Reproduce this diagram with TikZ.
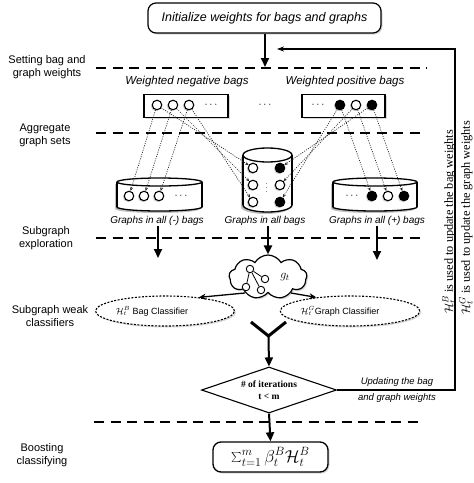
\documentclass[tikz,border=0pt]{standalone}
\usepackage{fontspec}
\setmainfont{Liberation Serif}
\setsansfont{Liberation Sans}
\usetikzlibrary{shapes.geometric,shapes.symbols,shadows,arrows.meta,calc}
\begin{document}
\begin{tikzpicture}[x=1pt,y=-1pt,
  lbl/.style={font=\sffamily\fontsize{11}{13}\selectfont, align=center, inner sep=0pt},
  itx/.style={font=\sffamily\itshape\fontsize{11.5}{13}\selectfont, inner sep=0pt},
  itsm/.style={font=\sffamily\itshape\fontsize{10}{12}\selectfont, inner sep=0pt},
  sep/.style={line width=2.2pt, dash pattern=on 10pt off 6.5pt},
  gn/.style={circle, draw, line width=1.1pt, minimum size=9.5pt, inner sep=0pt, fill=white, drop shadow={shadow xshift=-1.3pt, shadow yshift=-1.3pt, opacity=0.35}},
  gf/.style={gn, fill=black},
  sm/.style={circle, draw, line width=0.9pt, minimum size=7.5pt, inner sep=0pt, fill=white},
  dt/.style={inner sep=0pt, font=\fontsize{11}{11}\selectfont},
  dl/.style={black!85, line width=0.7pt, dash pattern=on 1pt off 1.3pt, -{Stealth[length=3.5pt,width=3pt]}},
  big/.style={line width=2pt, -{Triangle[length=9pt,width=8pt]}},
  med/.style={line width=1.3pt, -{Stealth[length=7pt,width=6pt]}},
  shd/.style={drop shadow={shadow xshift=1.5pt, shadow yshift=-1.5pt, opacity=0.3}},
  cyl/.style={line width=1.3pt},
  rnote/.style={rotate=90, anchor=west, inner sep=0pt, font=\fontsize{12.3}{14}\selectfont},
]
\useasboundingbox (0,0) rectangle (474,483);

% separators
\draw[sep] (96,68) -- (427,68);
\draw[sep] (96,133) -- (426,133);
\draw[sep] (96,238) -- (426,238);
\draw[sep] (94,422) -- (424,422);

% left labels
\node[lbl] (l1) at (47,67) {Setting bag and\\graph weights};
\node[lbl] (l2) at (45,135) {Aggregate\\graph sets};
\node[lbl] (l3) at (46,238) {Subgraph\\exploration};
\node[lbl] (l4) at (50,316) {Subgraph weak\\classifiers};
\node[lbl] (l5) at (42,455) {Boosting\\classifying};

% top box
\node[draw, rounded corners=8pt, line width=1.2pt, minimum width=233pt, minimum height=30pt, fill=white, shd,
  font=\sffamily\itshape\fontsize{12.5}{14}\selectfont] (init) at (264.5,18) {Initialize weights for bags and graphs};
\coordinate (t1) at (265,67);
\draw[big] (init.south -| t1) -- (t1);

% weighted bags
\node[itx] (wneg) at (187,82) {Weighted negative bags};
\node[itx] (wpos) at (345,82) {Weighted positive bags};
\node[draw, line width=1.3pt, minimum width=84pt, minimum height=23pt, fill=white, shd] (nbag) at (186,106) {};
\node[draw, line width=1.3pt, minimum width=83pt, minimum height=23pt, fill=white, shd] (pbag) at (343.5,106) {};
\node[gn] (n1) at (157,105) {};
\node[gn] (n2) at (173,105) {};
\node[gn] (n3) at (189,105) {};
\node[dt] (nd) at (211,105) {$\cdots$};
\node[dt] (bd) at (265,105) {$\cdots$};
\node[dt] (pd) at (318,105) {$\cdots$};
\node[gf] (p1) at (340,105) {};
\node[gn] (p2) at (356,105) {};
\node[gf] (p3) at (372,105) {};

% left cylinder
\fill[black!25, xshift=-2pt, yshift=-2pt] (117,182) rectangle (202,207) (159.5,207) ellipse [x radius=42.5pt, y radius=4pt];
\draw[cyl, fill=white] (159.5,207) ellipse [x radius=42.5pt, y radius=4pt];
\fill[white] (117,182) rectangle (202,207);
\draw[cyl] (117,182) -- (117,207) (202,182) -- (202,207);
\draw[cyl, fill=white] (159.5,182) ellipse [x radius=42.5pt, y radius=4pt];
% middle cylinder
\fill[black!25, xshift=-2pt, yshift=-2pt] (243,155) rectangle (292,205) (267.5,205) ellipse [x radius=24.5pt, y radius=7pt];
\draw[cyl, fill=white] (267.5,205) ellipse [x radius=24.5pt, y radius=7pt];
\fill[white] (243,155) rectangle (292,205);
\draw[cyl] (243,155) -- (243,205) (292,155) -- (292,205);
\draw[cyl, fill=white] (267.5,155) ellipse [x radius=24.5pt, y radius=7pt];
% right cylinder
\fill[black!25, xshift=-2pt, yshift=-2pt] (333,182) rectangle (417,207) (375,207) ellipse [x radius=42pt, y radius=4pt];
\draw[cyl, fill=white] (375,207) ellipse [x radius=42pt, y radius=4pt];
\fill[white] (333,182) rectangle (417,207);
\draw[cyl] (333,182) -- (333,207) (417,182) -- (417,207);
\draw[cyl, fill=white] (375,182) ellipse [x radius=42pt, y radius=4pt];

% graph nodes in cylinders
\node[gn] (a1) at (129,196) {};
\node[gn] (a2) at (144,196) {};
\node[gn] (a3) at (159,196) {};
\node[dt] (ad) at (181,196) {$\cdots$};
\node[gn] (m1) at (253,168) {};
\node[gn] (m2) at (253,185) {};
\node[gn] (m3) at (253,202) {};
\node[dt, font=\fontsize{7}{7}\selectfont] (md) at (266.5,185) {$\vdots$};
\node[gf] (q1) at (280,168) {};
\node[gn] (q2) at (280,185) {};
\node[gf] (q3) at (280,202) {};
\node[dt] (rd) at (352,196) {$\cdots$};
\node[gf] (r1) at (372,196) {};
\node[gn] (r2) at (388,196) {};
\node[gf] (r3) at (404,196) {};

% dotted connectors
\draw[dl] (n1) -- (a1);
\draw[dl] (n2) -- (a2);
\draw[dl] (n3) -- (a3);
\draw[dl] (n1) -- (m1);
\draw[dl] (n2) -- (m2);
\draw[dl] (n3) -- (m3);
\draw[dl] (p1) -- (r1);
\draw[dl] (p2) -- (r2);
\draw[dl] (p3) -- (r3);
\draw[dl] (p3) -- (q1);
\draw[dl] (p2) -- (q2);
\draw[dl] (p1) -- (q3);

% graph set labels
\node[itsm] (gneg) at (157,221) {Graphs in all (-) bags};
\node[itsm] (gmid) at (265,221) {Graphs in all bags};
\node[itsm] (gpos) at (377,221) {Graphs in all (+) bags};
\coordinate (e1) at (158,258);
\coordinate (e3) at (377,260);

% cloud
\node[cloud, draw, line width=1.2pt, fill=white, cloud puffs=9, cloud puff arc=120, aspect=1.8,
  minimum width=78pt, minimum height=44pt, inner sep=0pt, shd] (cloud) at (268,277) {};
\node[sm] (ga) at (250,269) {};
\node[sm] (gb) at (265,279) {};
\node[sm] (gc) at (246,287) {};
\node[sm] (gd) at (261,290) {};
\draw[line width=0.8pt] (ga) -- (gb) (ga) -- (gc) (ga) -- (gd);
\node[font=\fontsize{13}{13}\selectfont, inner sep=0pt] (gt) at (285,277) {$g_t$};

\draw[big] (gneg.south -| e1) -- (e1);
\draw[big] (gmid.south -| cloud.north) -- (cloud.north);
\draw[big] (gpos.south -| e3) -- (e3);

% classifiers
\node[ellipse, draw, line width=1.1pt, dash pattern=on 2pt off 1.5pt, minimum width=130pt, minimum height=30pt,
  inner sep=0pt, fill=white, shd, font=\sffamily\fontsize{9}{10}\selectfont] (lcl) at (165,311)
  {$\mathcal{H}_t^B$ Bag Classifier\hspace*{26pt}};
\node[ellipse, draw, line width=1.1pt, dash pattern=on 2pt off 1.5pt, minimum width=126pt, minimum height=30pt,
  inner sep=0pt, fill=white, shd, font=\sffamily\fontsize{9}{10}\selectfont] (rcl) at (350,311)
  {$\mathcal{H}_t^G$Graph Classifier\hspace*{20pt}};
\draw[med] (cloud.215) -- (lcl.22);
\draw[med] (cloud.325) -- (rcl.158);

% merge
\coordinate (ya) at (251,322);
\coordinate (yb) at (286,322);
\coordinate (ym) at (268.5,336);
\draw[line width=3pt] (ya) -- (ym) -- (yb);

% decision
\node[diamond, draw, line width=1.1pt, minimum width=135pt, minimum height=46pt, inner sep=0pt, aspect=2.9,
  fill=white, align=center, font=\bfseries\fontsize{9.5}{12}\selectfont] (dia) at (269,390) {\# of iterations\\t < m};
\draw[big] (ym) -- (dia.north);

% feedback
\coordinate (fbtop) at (455,49);
\coordinate (fbend) at (277,49);
\draw[line width=1.1pt, -{Stealth[length=7pt,width=5pt]}] (dia.east) -| (fbtop) -- (fbend);
\node[itsm, font=\sffamily\itshape\fontsize{9.5}{11}\selectfont] (up1) at (397,382) {Updating the bag};
\node[itsm, font=\sffamily\itshape\fontsize{9.5}{11}\selectfont] (up2) at (397,398) {and graph weights};

% rotated notes
\node[rnote] (rt1) at (449,314) {$\mathcal{H}_t^B$ is used to update the bag weights};
\node[rnote] (rt2) at (466,315) {$\mathcal{H}_t^G$ is used to update the graph weights};

% result
\node[draw, rounded corners=8pt, line width=1.3pt, minimum width=115pt, minimum height=30pt, inner sep=2pt, fill=white, shd,
  font=\fontsize{18}{20}\selectfont] (res) at (270.5,457) {$\sum_{t=1}^{m}\beta_t^B\mathcal{H}_t^B$};
\draw[big] (dia.south) -- (res.north);
\end{tikzpicture}
\end{document}
